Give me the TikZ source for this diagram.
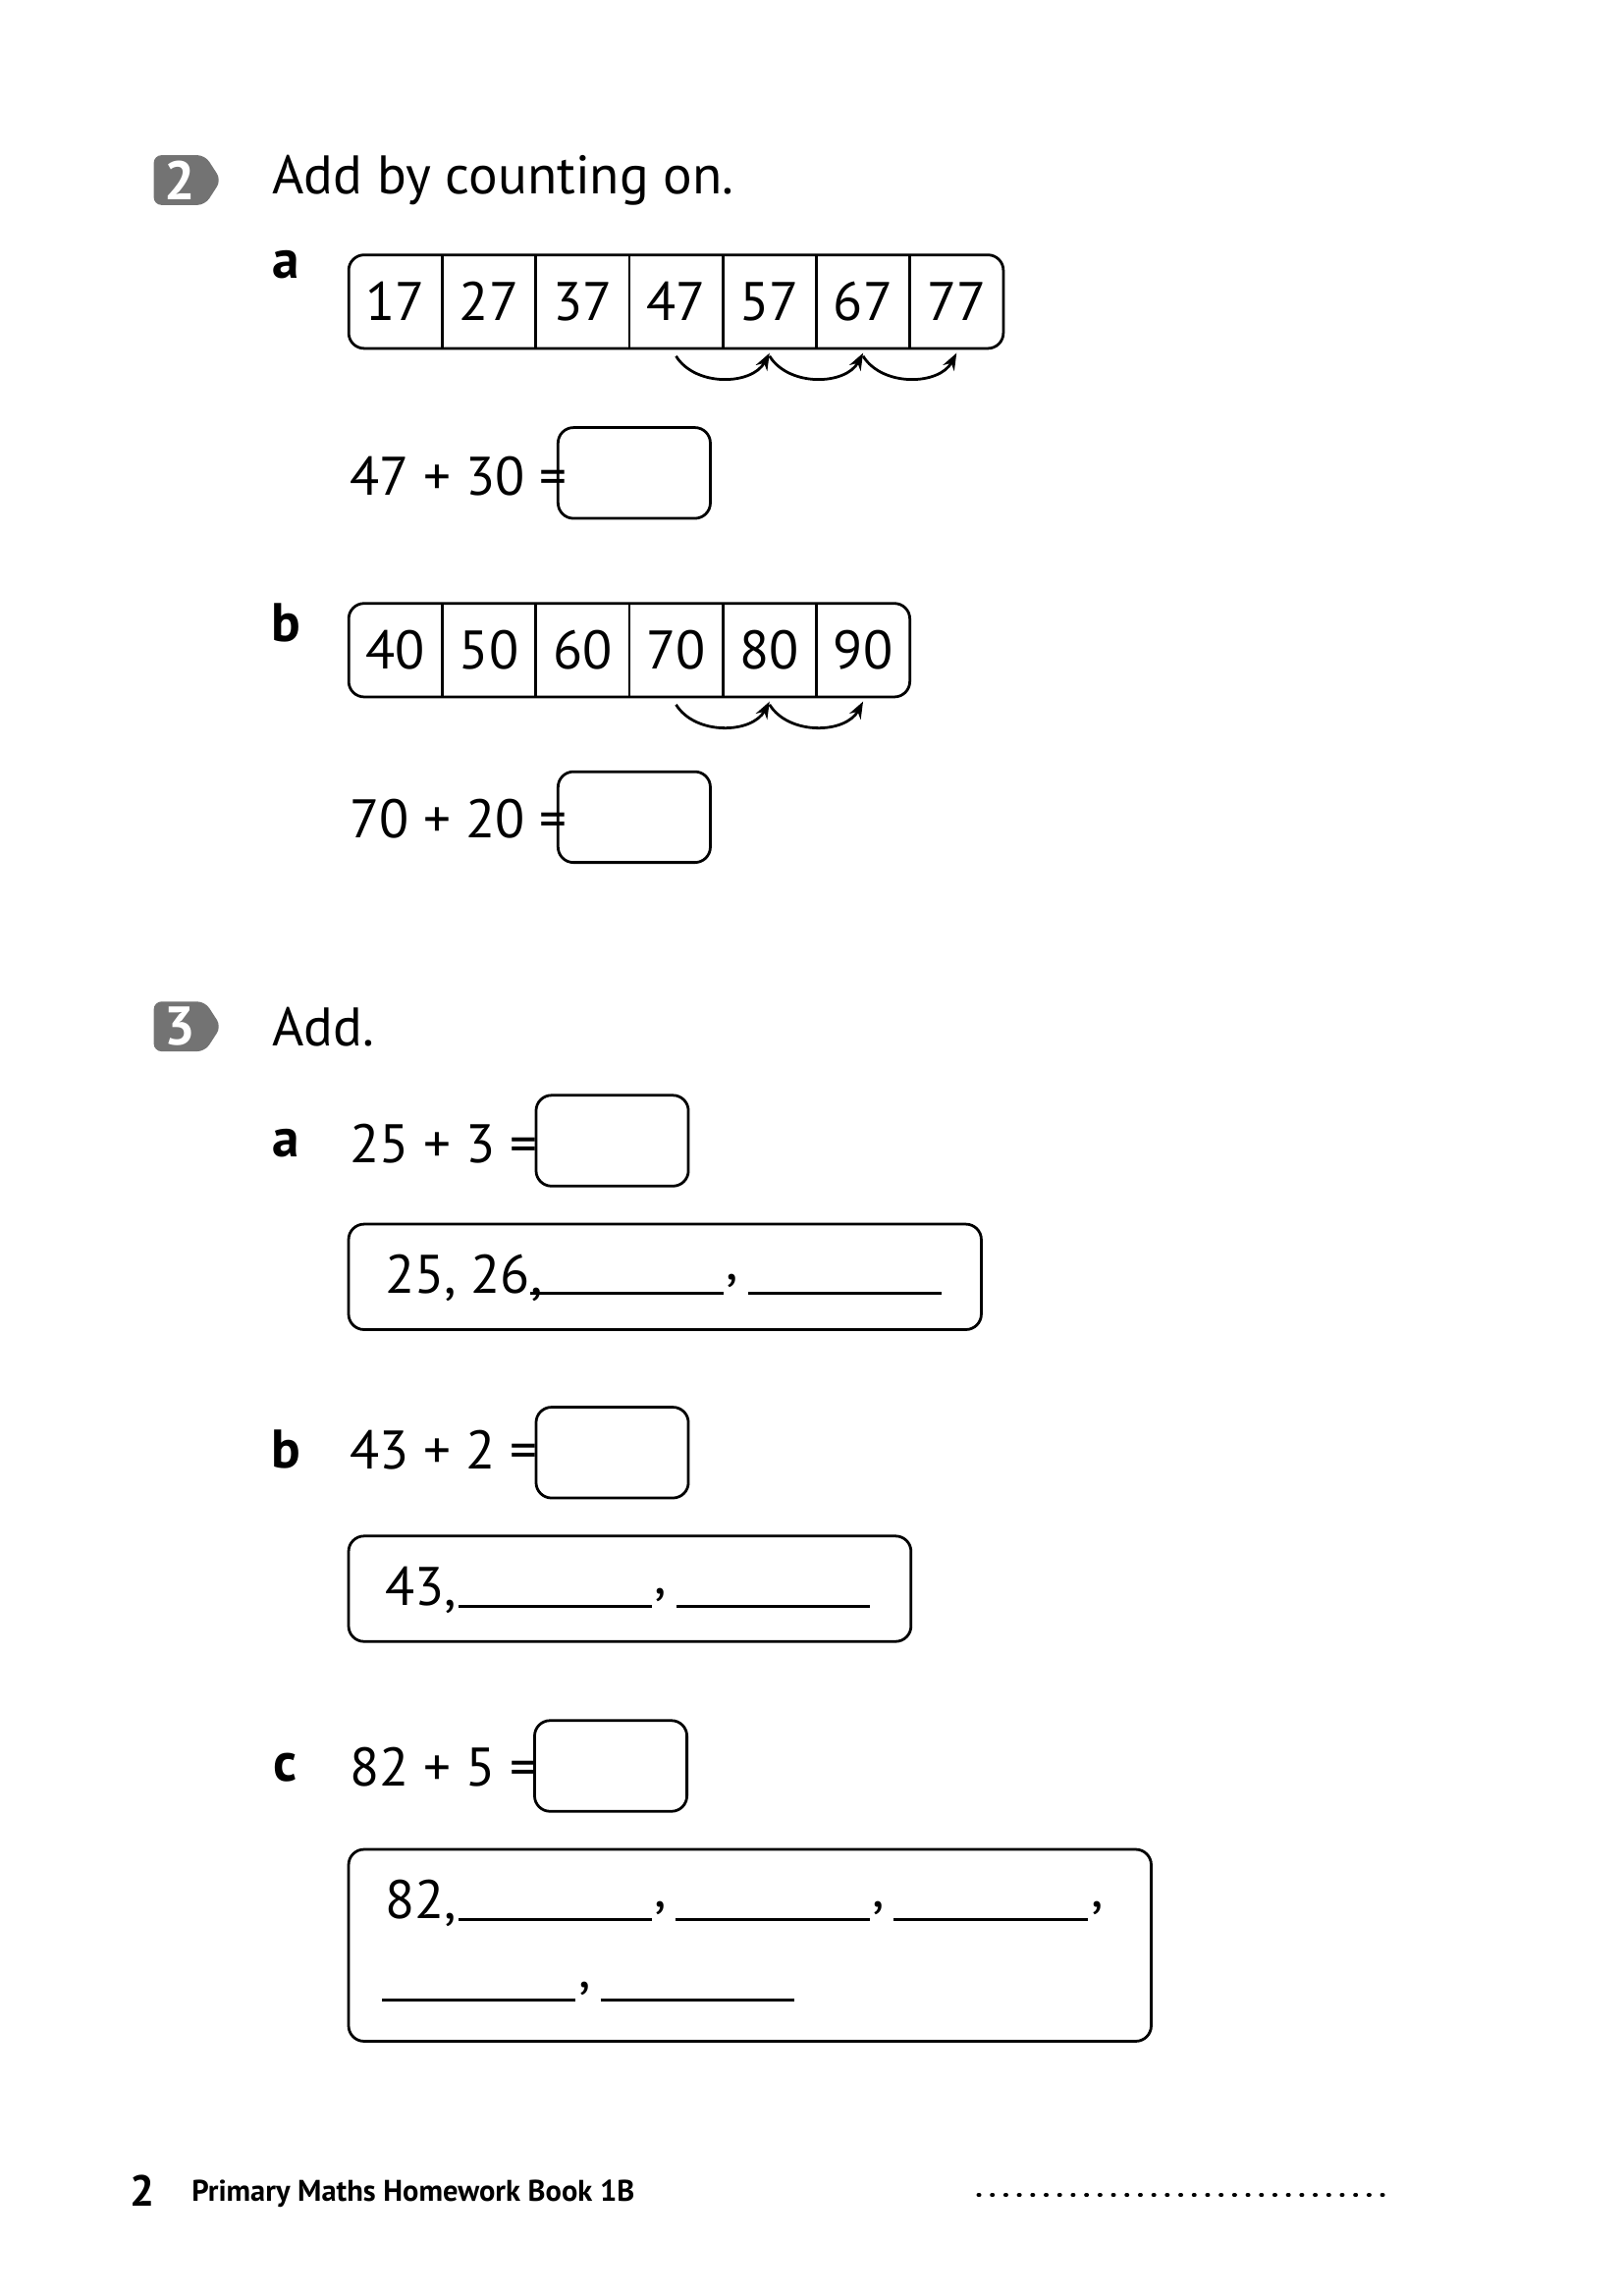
\documentclass[tikz,border=0pt]{standalone}
\usepackage{fontspec}
\setmainfont{PT Sans}
\usetikzlibrary{positioning,arrows.meta}
\tikzstyle{hop} = [thick,-{Stealth[length=2.2mm]},line width=1pt]

\begin{document}
\begin{tikzpicture}[x=0.1895mm,y=-0.1895mm,line width=1pt,
    cell/.style={minimum width=62*0.1895mm,minimum height=62*0.1895mm,inner sep=0pt,font=\fontsize{20}{22}\selectfont},
    txt/.style={anchor=west,inner sep=0pt,font=\fontsize{20}{22}\selectfont},
    ansbox/.style={draw,rounded corners=2mm,minimum width=104*0.1895mm,minimum height=62*0.1895mm,inner sep=0pt},
    tag/.style={inner sep=0pt,font=\bfseries\fontsize{20}{22}\selectfont},
    badge/.style={fill=black!55,rounded corners=1mm}]
    \useasboundingbox (0,0) rectangle (1108,1568);
    % question badges
    \foreach \y/\n in {123/2,701/3}{
        \fill[badge] (105,\y-17) -- (140,\y-17) -- (151,\y) -- (140,\y+17) -- (105,\y+17) -- cycle;
        \node[text=white,tag] (badge\n) at (123,\y) {\n};
    }
    \node[txt] (qtwo) at (185,123) {Add by counting on.};
    \node[txt] (qthree) at (185,701) {Add.};

    % part a: number strip
    \node[tag] (pa) at (195,181) {a};
    \node[cell] (a1) at (270,206) {17};
    \foreach \n [count=\i from 2] in {27,37,47,57,67,77}{
        \pgfmathtruncatemacro\j{\i-1}
        \node[cell,right=0pt of a\j] (a\i) {\n};
        \draw (a\i.north west) -- (a\i.south west);
    }
    \draw[rounded corners=2mm] (a1.north west) rectangle (a7.south east);
    \foreach \i/\j in {4/5,5/6,6/7}
        \draw[hop] ([yshift=-1mm]a\i.south) to[bend right=60] ([yshift=-0.6mm]a\j.south);
    \node[txt] (suma) at (238,325) {47 + 30 =};
    \node[ansbox] (ansa) at (433,323) {};

    % part b: number strip
    \node[tag] (pb) at (195,425) {b};
    \node[cell] (b1) at (270,444) {40};
    \foreach \n [count=\i from 2] in {50,60,70,80,90}{
        \pgfmathtruncatemacro\j{\i-1}
        \node[cell,right=0pt of b\j] (b\i) {\n};
        \draw (b\i.north west) -- (b\i.south west);
    }
    \draw[rounded corners=2mm] (b1.north west) rectangle (b6.south east);
    \foreach \i/\j in {4/5,5/6}
        \draw[hop] ([yshift=-1mm]b\i.south) to[bend right=60] ([yshift=-0.6mm]b\j.south);
    \node[txt] (sumb) at (238,559) {70 + 20 =};
    \node[ansbox] (ansb) at (433,558) {};

    % question 3
    \node[tag] (pc) at (195,781) {a};
    \node[txt] (sumc) at (238,781) {25 + 3 =};
    \node[ansbox] (ansc) at (418,779) {};
    \draw[rounded corners=2mm] (238,836) rectangle (670,908);
    \node[txt] (seqc) at (262,873) {25, 26,};
    \draw (362,883) -- (494,883) (511,883) -- (643,883);
    \node[txt] at (495,875) {,};

    \node[tag] (pd) at (195,990) {b};
    \node[txt] (sumd) at (238,990) {43 + 2 =};
    \node[ansbox] (ansd) at (418,992) {};
    \draw[rounded corners=2mm] (238,1049) rectangle (622,1121);
    \node[txt] (seqd) at (262,1086) {43,};
    \draw (313,1097) -- (445,1097) (462,1097) -- (594,1097);
    \node[txt] at (446,1089) {,};

    \node[tag] (pe) at (195,1207) {c};
    \node[txt] (sume) at (238,1207) {82 + 5 =};
    \node[ansbox] (anse) at (417,1206) {};
    \draw[rounded corners=2mm] (238,1263) rectangle (786,1394);
    \node[txt] (seqe) at (262,1300) {82,};
    \draw (313,1311) -- (445,1311) (461,1311) -- (594,1311) (610,1311) -- (743,1311);
    \foreach \x in {446,595,744} \node[txt] at (\x,1303) {,};
    \draw (261,1366) -- (393,1366) (410,1366) -- (542,1366);
    \node[txt] at (394,1358) {,};

    % footer
    \node[txt,font=\bfseries\fontsize{16}{18}\selectfont] (pg) at (88,1496) {2};
    \node[txt,font=\bfseries\fontsize{11}{13}\selectfont] (book) at (130,1498) {Primary Maths Homework Book 1B};
    \draw[line width=1.4pt,dash pattern=on 0.4pt off 1.6mm,line cap=round] (668,1499) -- (948,1499);
\end{tikzpicture}
\end{document}
